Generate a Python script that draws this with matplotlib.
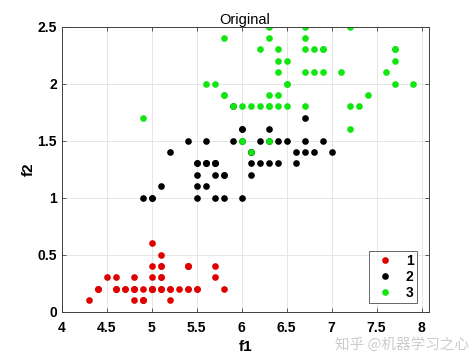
import matplotlib.pyplot as plt

# iris: sepal length (f1) and petal width (f2), grouped by class
f1_c1 = [5.1, 4.9, 4.7, 4.6, 5.0, 5.4, 4.6, 5.0, 4.4, 4.9, 5.4, 4.8, 4.8, 4.3, 5.8, 5.7, 5.4,
         5.1, 5.7, 5.1, 5.4, 5.1, 4.6, 5.1, 4.8, 5.0, 5.0, 5.2, 5.2, 4.7, 4.8, 5.4, 5.2, 5.5,
         4.9, 5.0, 5.5, 4.9, 4.4, 5.1, 5.0, 4.5, 4.4, 5.0, 5.1, 4.8, 5.1, 4.6, 5.3, 5.0]
f2_c1 = [0.2, 0.2, 0.2, 0.2, 0.2, 0.4, 0.3, 0.2, 0.2, 0.1, 0.2, 0.2, 0.1, 0.1, 0.2, 0.4, 0.4,
         0.3, 0.3, 0.3, 0.2, 0.4, 0.2, 0.5, 0.2, 0.2, 0.4, 0.2, 0.2, 0.2, 0.2, 0.4, 0.1, 0.2,
         0.1, 0.2, 0.2, 0.1, 0.2, 0.2, 0.3, 0.3, 0.2, 0.6, 0.4, 0.3, 0.2, 0.2, 0.2, 0.2]
f1_c2 = [7.0, 6.4, 6.9, 5.5, 6.5, 5.7, 6.3, 4.9, 6.6, 5.2, 5.0, 5.9, 6.0, 6.1, 5.6, 6.7, 5.6,
         5.8, 6.2, 5.6, 5.9, 6.1, 6.3, 6.1, 6.4, 6.6, 6.8, 6.7, 6.0, 5.7, 5.5, 5.5, 5.8, 6.0,
         5.4, 6.0, 6.7, 6.3, 5.6, 5.5, 5.5, 6.1, 5.8, 5.0, 5.6, 5.7, 5.7, 6.2, 5.1, 5.7]
f2_c2 = [1.4, 1.5, 1.5, 1.3, 1.5, 1.3, 1.6, 1.0, 1.3, 1.4, 1.0, 1.5, 1.0, 1.4, 1.3, 1.4, 1.5,
         1.0, 1.5, 1.1, 1.8, 1.3, 1.5, 1.2, 1.3, 1.4, 1.4, 1.7, 1.5, 1.0, 1.1, 1.0, 1.2, 1.6,
         1.5, 1.6, 1.5, 1.3, 1.3, 1.3, 1.2, 1.4, 1.2, 1.0, 1.3, 1.2, 1.3, 1.3, 1.1, 1.3]
f1_c3 = [6.3, 5.8, 7.1, 6.3, 6.5, 7.6, 4.9, 7.3, 6.7, 7.2, 6.5, 6.4, 6.8, 5.7, 5.8, 6.4, 6.5,
         7.7, 7.7, 6.0, 6.9, 5.6, 7.7, 6.3, 6.7, 7.2, 6.2, 6.1, 6.4, 7.2, 7.4, 7.9, 6.4, 6.3,
         6.1, 7.7, 6.3, 6.4, 6.0, 6.9, 6.7, 6.9, 5.8, 6.8, 6.7, 6.7, 6.3, 6.5, 6.2, 5.9]
f2_c3 = [2.5, 1.9, 2.1, 1.8, 2.2, 2.1, 1.7, 1.8, 1.8, 2.5, 2.0, 1.9, 2.1, 2.0, 2.4, 2.3, 1.8,
         2.2, 2.3, 1.5, 2.3, 2.0, 2.0, 1.8, 2.1, 1.8, 1.8, 1.8, 2.1, 1.6, 1.9, 2.0, 2.2, 1.5,
         1.4, 2.3, 2.4, 1.8, 1.8, 2.1, 2.4, 2.3, 1.9, 2.3, 2.5, 2.3, 1.9, 2.0, 2.3, 1.8]
labels = ['1', '2', '3']
colors = ['#e00000', 'k', '#11e611']

plt.rcParams['font.family'] = ['Liberation Sans', 'DejaVu Sans']

fig = plt.figure(figsize=(4.74, 3.55), dpi=100)
ax = fig.add_axes([0.130, 0.122, 0.7745, 0.803])

groups = [(f1_c1, f2_c1), (f1_c2, f2_c2), (f1_c3, f2_c3)]
for (x, y), lab, c in zip(groups, labels, colors):
    ax.plot(x, y, 'o', color=c, markersize=4.8, markeredgewidth=0, label=lab)

ax.set_xlim(4, 8.08)
ax.set_ylim(0, 2.5)
ax.set_xticks([4, 4.5, 5, 5.5, 6, 6.5, 7, 7.5, 8])
ax.set_xticklabels(['4', '4.5', '5', '5.5', '6', '6.5', '7', '7.5', '8'])
ax.set_yticks([0, 0.5, 1, 1.5, 2, 2.5])
ax.set_yticklabels(['0', '0.5', '1', '1.5', '2', '2.5'])
ax.grid(True, color='#e6e6e6', linewidth=0.7)
ax.set_axisbelow(True)
ax.tick_params(direction='in', top=True, right=True, length=3, width=0.6,
               color='#404040', labelsize=10)
ax.tick_params(axis='x', pad=7)
for lbl in ax.get_xticklabels() + ax.get_yticklabels():
    lbl.set_fontweight('bold')
for s in ax.spines.values():
    s.set_color('#404040')
    s.set_linewidth(0.7)

ax.set_xlabel('f1', fontsize=11, fontweight='bold', labelpad=3)
ax.set_ylabel('f2', fontsize=11, fontweight='bold', labelpad=1)
ax.set_title('Original', fontsize=10.5, pad=2)

leg = ax.legend(loc='lower right', bbox_to_anchor=(0.968, 0.03), borderaxespad=0,
                fancybox=False, frameon=True, edgecolor='#404040', handlelength=1.8,
                handletextpad=0.6, borderpad=0.25, labelspacing=0.12,
                prop={'weight': 'bold', 'size': 10})
leg.get_frame().set_linewidth(0.7)

fig.text(0.99, 0.03, '知乎 @机器学习之心', fontsize=10.5, color='#cccccc', ha='right',
         va='center', family=['Noto Sans CJK SC', 'DejaVu Sans'])

fig.savefig('out.png', dpi=100)
